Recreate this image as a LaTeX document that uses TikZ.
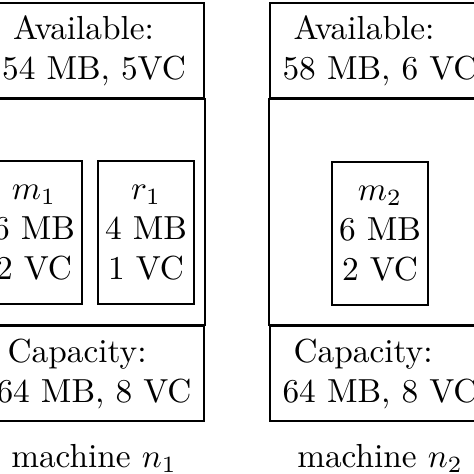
\documentclass[tikz,border=0pt]{standalone}
\usetikzlibrary{positioning}

\tikzset{
  infobox/.style={draw, semithick, minimum width=66pt, minimum height=28.5pt, inner sep=0pt, align=left},
  taskbox/.style={draw, semithick, minimum width=28.8pt, minimum height=42.9pt, inner sep=0pt, align=center}
}

\begin{document}
\begin{tikzpicture}[x=0.3pt,y=0.3pt]
\useasboundingbox (0,0) rectangle (474,474);
\clip (0,0) rectangle (474,474);

% machine n_1
\node[infobox] (avail1) at (94,423.5) {\ Available:\\54 MB, 5VC};
\node[infobox] (cap1) at (94,100) {\ Capacity:\\64 MB, 8 VC};
\draw[semithick] (avail1.south west) rectangle (cap1.north east);
\node[taskbox] (m1) at (34,241.5) {$m_1$\\6 MB\\2 VC};
\node[taskbox] (r1) at (146,241.5) {$r_1$\\4 MB\\1 VC};
\node[below=3pt of cap1] (n1) {machine $n_1$};

% machine n_2
\node[infobox] (avail2) at (380,423.5) {\ Available:\\58 MB, 6 VC};
\node[infobox] (cap2) at (380,100) {\ Capacity:\\64 MB, 8 VC};
\draw[semithick] (avail2.south west) rectangle (cap2.north east);
\node[taskbox] (m2) at (380,240) {$m_2$\\6 MB\\2 VC};
\node[below=3pt of cap2] (n2) {machine $n_2$};
\end{tikzpicture}
\end{document}
